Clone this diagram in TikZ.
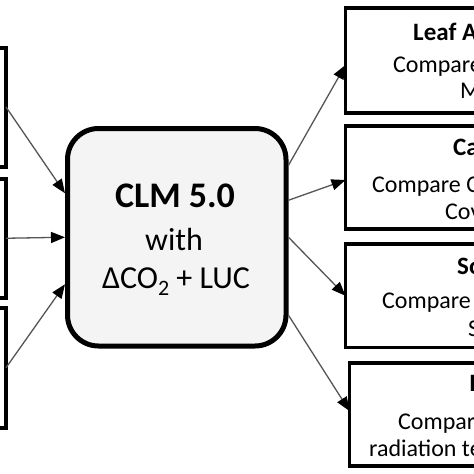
\documentclass[tikz,border=0pt]{standalone}
\usepackage{fontspec}
\setmainfont{Carlito}
\usetikzlibrary{arrows.meta}
\definecolor{arrowgray}{HTML}{555555}
\definecolor{clmfill}{HTML}{F4F4F4}
\begin{document}
\begin{tikzpicture}[x=1pt,y=-1pt,
  inbox/.style={draw=black,line width=4pt,fill=white,inner sep=0pt,outer sep=0pt},
  outbox/.style={draw=black,line width=3.5pt,fill=white,inner sep=0pt,outer sep=0pt},
  clmbox/.style={draw=black,line width=5pt,fill=clmfill,rounded corners=31pt,inner sep=0pt,outer sep=2.5pt,minimum width=218.5pt,minimum height=217.5pt},
  flow/.style={draw=arrowgray,line width=1.3pt,-{Triangle[length=14pt,width=11pt,color=black]}},
  head/.style={anchor=base west,inner sep=0pt,font=\fontsize{25}{30}\selectfont\bfseries},
  body/.style={anchor=base west,inner sep=0pt,font=\fontsize{24}{29}\selectfont},
  ctext/.style={anchor=base,inner sep=0pt}]
\useasboundingbox (0,0) rectangle (474,474);
\clip (0,0) rectangle (474,474);
% input boxes (left, cut by the edge)
\node[inbox,minimum width=66pt,minimum height=119pt] (lb1) at (-27,107) {};
\node[inbox,minimum width=66pt,minimum height=119.5pt] (lb2) at (-27,238.25) {};
\node[inbox,minimum width=66pt,minimum height=120.5pt] (lb3) at (-27,367.75) {};
% central model box
\node[clmbox] (clm) at (176.75,237.25) {};
\node[ctext,font=\fontsize{36}{40}\selectfont\bfseries] (t1) at (175,207) {CLM 5.0};
\node[ctext,font=\fontsize{32}{36}\selectfont] (t2) at (174,250) {with};
\node[ctext,font=\fontsize{32}{36}\selectfont] (t3) at (176,288) {ΔCO\raisebox{-0.22em}{\fontsize{22}{22}\selectfont 2} + LUC};
% output boxes (right, cut by the edge)
\node[outbox,minimum width=354.5pt,minimum height=105pt] (rb1) at (522.75,60.5) {};
\node[outbox,minimum width=354.5pt,minimum height=103pt] (rb2) at (522.75,177.5) {};
\node[outbox,minimum width=354.5pt,minimum height=103.5pt] (rb3) at (522.75,295.75) {};
\node[outbox,minimum width=350.5pt,minimum height=103pt] (rb4) at (524.75,414.5) {};
\node[head] (h1) at (413,40) {Leaf Area Index};
\node[body] (b1a) at (393,72) {Compare with};
\node[body] (b1b) at (460,98) {MODIS};
\node[head] (h2) at (453,155) {Canopy};
\node[body] (b2a) at (372,192) {Compare Canopy};
\node[body] (b2b) at (445,219) {Cover};
\node[head] (h3) at (457,274) {Soil};
\node[body] (b3a) at (382,308) {Compare with};
\node[body] (b3b) at (468,336) {Soil};
\node[head] (h4) at (469.5,391) {Land};
\node[body] (b4a) at (398,429) {Compare};
\node[body] (b4b) at (369,456) {radiation temperature};
% connectors
\draw[flow] (lb1.east) -- ([yshift=44pt]clm.west);
\draw[flow] (lb2.east) -- (clm.west);
\draw[flow] (lb3.east) -- ([yshift=-47pt]clm.west);
\draw[flow] ([yshift=72pt]clm.east) -- ([yshift=-4.5pt]rb1.west);
\draw[flow] ([yshift=37pt]clm.east) -- ([yshift=-2.5pt]rb2.west);
\draw[flow] (clm.east) -- (rb3.west);
\draw[flow] ([yshift=-78pt]clm.east) -- ([yshift=3.5pt]rb4.west);
\end{tikzpicture}
\end{document}
